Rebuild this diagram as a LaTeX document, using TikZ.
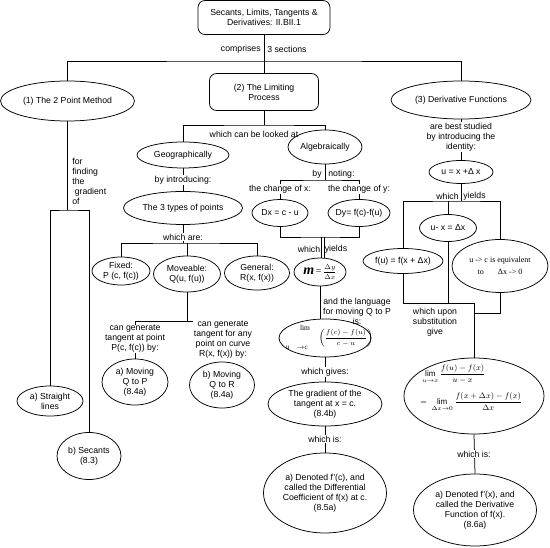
\documentclass[tikz,border=0pt]{standalone}
\usepackage{fontspec}
\setmainfont{Liberation Sans}
\newfontfamily\serif{Liberation Serif}
\usetikzlibrary{shapes.geometric}
\newcommand\fs{\fontsize{8.7}{10}\selectfont}
\newcommand\OV[6]{\node[ov,minimum width=#4pt,minimum height=#5pt] (#1) at (#2,#3) {};\node[tx] at (#1.center) {#6};}
\newcommand\BX[6]{\node[bx,minimum width=#4pt,minimum height=#5pt] (#1) at (#2,#3) {};\node[tx] at (#1.center) {#6};}
\begin{document}
\begin{tikzpicture}[x=1pt,y=-1pt,line width=0.75pt,
  ov/.style={draw,ellipse,inner sep=0pt},
  bx/.style={draw,rounded corners=7pt,inner sep=0pt},
  tx/.style={align=center,inner sep=0pt,font=\fs},
  lb/.style={align=center,inner sep=0.5pt,fill=white,font=\fs},
  lbn/.style={align=center,inner sep=0pt,font=\fs}]
\useasboundingbox (0,0) rectangle (550,548);
% nodes
\BX{title}{264}{17.5}{132}{34}{Secants, Limits, Tangents \&\\Derivatives: II.BII.1}
\OV{o1}{67.5}{101}{134}{40}{(1) The 2 Point Method}
\BX{b2}{264}{92}{109}{37}{(2) The Limiting\\Process}
\OV{o3}{461}{100}{140}{38}{(3) Derivative Functions}
\OV{geo}{183}{155}{92}{26}{Geographically}
\OV{alg}{325}{147}{74}{34}{Algebraically}
\OV{types}{183}{208}{119}{33}{The 3 types of points}
\OV{fixed}{121}{271}{58}{28}{Fixed:\\P (c, f(c))}
\OV{move}{187}{274}{67}{36}{Moveable:\\Q(u, f(u))}
\OV{gen}{257}{273}{65}{34}{General:\\R(x, f(x))}
\OV{mqp}{135}{382}{66}{46}{a) Moving\\Q to P\\(8.4a)}
\OV{mqr}{222}{385}{65}{46}{b) Moving\\Q to R\\(8.4a)}
\OV{sl}{50}{401}{66}{30}{a) Straight\\lines}
\OV{sec}{89}{456}{64}{47}{b) Secants\\(8.3)}
\OV{dx}{280}{213}{56}{27}{Dx = c - u}
\OV{dy}{359}{213}{62}{27}{Dy= f(c)-f(u)}
\OV{m}{320}{272}{52}{28}{}
\node[inner sep=0pt] at (m.center) {{\serif\fontsize{14}{14}\selectfont\bfseries\itshape m}\,{\serif\fontsize{10}{10}\selectfont =}\,{\fontsize{7}{8}\selectfont$\displaystyle\frac{\Delta y}{\Delta x}$}};
\OV{lim}{325}{338}{92}{38}{}
\OV{grad}{325}{404}{114}{44}{The gradient of the\\tangent at x = c.\\(8.4b)}
\OV{dfc}{325}{493}{123}{80}{a) Denoted f'(c), and\\called the Differential\\Coefficient of f(x) at c.\\(8.5a)}
\OV{uid}{461}{172}{64}{23}{u = x +Δ x}
\OV{ux}{448}{228}{57}{27}{u- x = Δx}
\OV{fu}{403}{261}{80}{25}{f(u) = f(x + Δx)}
\OV{uc}{500}{266}{96}{53}{}
\node[align=center,inner sep=0pt,font=\serif\fontsize{8}{12}\selectfont] at (uc.center) {u -{}> c is equivalent\\to \hspace{10pt} Δx -{}> 0};
\OV{big}{474}{396}{140}{76}{}
\OV{dfx}{475}{510}{123}{72}{a) Denoted f'(x), and\\called the Derivative\\Function of f(x).\\(8.6a)}
% contents of limit ovals
\node[inner sep=0pt,font=\serif\fontsize{7.5}{8}\selectfont] at (305,328) {lim};
\node[inner sep=0pt,font=\serif\fontsize{7}{8}\selectfont] at (297,348) {u\quad$\to$c};
\node[inner sep=0pt,font=\fontsize{7}{8}\selectfont] at (346,338) {$\displaystyle\left(\frac{f(c)-f(u)}{c-u}\right)$};
\node[inner sep=0pt,anchor=west,font=\fontsize{8}{9}\selectfont] at (422,374) {$\displaystyle\lim_{u\to x}\frac{f(u)-f(x)}{u-x}$};
\node[inner sep=0pt,anchor=west,font=\fontsize{8}{9}\selectfont] at (420,402) {$\displaystyle=\;\lim_{\Delta x\to 0}\frac{f(x+\Delta x)-f(x)}{\Delta x}$};
% junctions
\coordinate (j0) at (264,61);
\coordinate (j1) at (264,125);
\coordinate (jg) at (183,243);
\coordinate (jm) at (187,321);
\coordinate (jm2) at (193,321);
\coordinate (jl) at (67.5,210);
\coordinate (ja) at (325,180);
\coordinate (jb) at (321,237);
\coordinate (jb2) at (324,237);
\coordinate (jr) at (461,201);
\coordinate (js) at (474,303);
\coordinate (jt) at (474,313);
% connectors
\draw (title.south) -- (j0);
\draw (o1.north) |- (j0) -| (o3.north);
\draw (j0) -- (b2.north);
\draw (b2.south) -- (j1);
\draw (geo.north) |- (j1) -| (alg.north);
\draw (geo.south) -- (types.north);
\draw (types.south) -- (jg);
\draw (fixed.north) |- (jg) -| (gen.north);
\draw (jg -| move.north) -- (move.north);
\draw (move.south) -- (jm);
\draw (mqp.north) |- (jm2);
\draw (o1.south) -- (jl);
\draw (sl.north) |- (jl) -| (sec.north);
\draw (alg.south) -- (ja);
\draw (dx.north) |- (ja) -| (dy.north);
\draw (dx.south) |- (jb) -| (dy.south);
\draw (jb) -- (jb |- m.north);
\draw (jb2) -- ([yshift=-0.6pt]jb2 |- m.north);
\draw (m.south) -- (m.south |- lim.north);
\draw (lim.south) -- (grad.north);
\draw (grad.south) -- (dfc.north);
\draw (o3.south) -- (uid.north);
\draw (uid.south) -- (jr);
\draw (fu.north) |- (jr) -| (uc.north);
\draw (jr -| ux.north) -- (ux.north);
\draw (fu.south) |- (js);
\draw (ux.south) -- (ux.south |- js);
\draw (uc.south) |- (jt);
\draw (js) -- (big.north);
\draw (big.south) -- (dfx.north);
% labels
\node[lbn,anchor=east] at (261,49) {comprises};
\node[lbn,anchor=west] at (267,49) {3 sections};
\node[lbn] at (254,134) {which can be looked at};
\node[lb] at (183,180) {by introducing:};
\node[lb] at (183,237) {which are:};
\node[lb] at (135,339) {can generate\\tangent at point\\P(c, f(c)) by:};
\node[lbn] at (223,340) {can generate\\tangent for any\\point on curve\\R(x, f(x)) by:};
\node[lbn,anchor=north west,align=left] at (72,158) {for\\finding\\the\\\ gradient\\of};
\node[lbn,anchor=east] at (322,174) {by};
\node[lbn,anchor=west] at (328,174) {noting:};
\node[lb] at (280,189) {the change of x:};
\node[lb] at (359,189) {the change of y:};
\node[lbn,anchor=east] at (320.5,249) {which};
\node[lbn,anchor=west] at (324.5,249) {yields};
\node[lbn] at (357,311) {and the language\\for moving Q to P\\is:};
\node[lb] at (325,372) {which gives:};
\node[lb] at (325,439) {which is:};
\node[lb] at (461,137) {are best studied\\by introducing the\\identity:};
\node[lbn,anchor=east] at (459,196) {which};
\node[lbn,anchor=west] at (463,196) {yields};
\node[lbn] at (435,322) {which upon\\substitution\\give};
\node[lb] at (474,454) {which is:};
\end{tikzpicture}
\end{document}
